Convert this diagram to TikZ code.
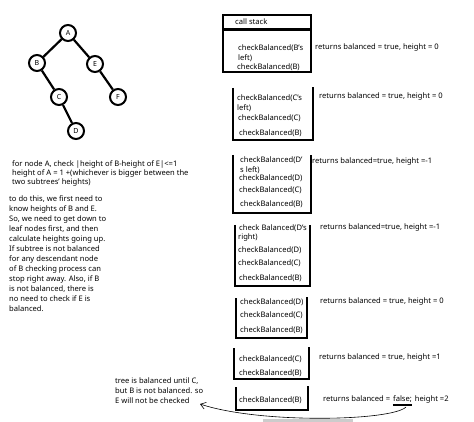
\documentclass[tikz,border=0pt]{standalone}
\usepackage{fontspec}
\setmainfont{Noto Sans}
\usepackage{tikz}
\usetikzlibrary{arrows.meta}

\tikzset{
	vertex/.style={draw, circle, line width=2pt, minimum size=16pt, inner sep=0pt, font=\fontsize{7}{8}\selectfont},
	edge/.style={line width=2.2pt},
	frame/.style={line width=2pt},
	txt/.style={anchor=west, inner sep=0pt, font=\fontsize{7.6}{8}\selectfont},
	para/.style={anchor=north west, inner sep=0pt, align=left}
}

\begin{document}
\begin{tikzpicture}[x=1pt, y=-1pt]
			\useasboundingbox (0,0) rectangle (474,422);

			% tree
			\node [vertex] (A) at (68,33) {A};
			\node [vertex] (B) at (37,63) {B};
			\node [vertex] (E) at (95,64) {E};
			\node [vertex] (C) at (59,97) {C};
			\node [vertex] (F) at (118,97) {F};
			\node [vertex] (D) at (76,131) {D};

			\draw [edge] (A) -- (B);
			\draw [edge] (A) -- (E);
			\draw [edge] (B) -- (C);
			\draw [edge] (C) -- (D);
			\draw [edge] (E) -- (F);

			% notes on the left
			\node [para, font=\fontsize{7.6}{9.3}\selectfont] (note1) at (12,160) {for node A, check |height of B-height of E|<=1\\height of A = 1 +(whichever is bigger between the\\two subtrees' heights)};
			\node [para, font=\fontsize{7.6}{10}\selectfont] (note2) at (9,195) {to do this, we first need to\\know heights of B and E.\\So, we need to get down to\\leaf nodes first, and then\\calculate heights going up.};
			\node [para, font=\fontsize{7.6}{10}\selectfont] (note3) at (9,245) {If subtree is not balanced\\for any descendant node\\of B checking process can\\stop right away. Also, if B\\is not balanced, there is\\no need to check if E is\\balanced.};
			\node [para, font=\fontsize{7.6}{9.7}\selectfont] (note4) at (115,378) {tree is balanced until C,\\but B is not balanced. so\\E will not be checked};

			% call stack frames
			\draw [frame] (223,15) rectangle (311,29);
			\draw [frame] (223,30) rectangle (311,72);
			\draw [frame] (233,88) -- (233,140) -- (313,140) -- (313,87);
			\draw [frame] (233,155) -- (233,213) -- (311,213) -- (311,155);
			\draw [frame] (235,225) -- (235,286) -- (310,286) -- (310,225);
			\draw [frame] (236,298) -- (236,338) -- (307,338) -- (307,297);
			\draw [frame] (234,348) -- (234,379) -- (309,379) -- (309,347);
			\draw [frame] (236,387) -- (236,410) -- (308,410) -- (308,386);

			\node [txt] (cs) at (235,22) {call stack};

			\node [txt] (s1a) at (238,48) {checkBalanced(B's};
			\node [txt] (s1b) at (238,58) {left)};
			\node [txt] (s1c) at (237,67) {checkBalanced(B)};
			\node [txt] (r1) at (315,48) {returns balanced = true, height = 0};

			\node [txt] (s2a) at (237,98) {checkBalanced(C's};
			\node [txt] (s2b) at (237,108) {left)};
			\node [txt] (s2c) at (238,118) {checkBalanced(C)};
			\node [txt] (s2d) at (239,133) {checkBalanced(B)};
			\node [txt] (r2) at (319,97) {returns balanced = true, height = 0};

			\node [txt] (s3a) at (240,160) {checkBalanced(D'};
			\node [txt] (s3b) at (240,170) {s left)};
			\node [txt] (s3c) at (239,178) {checkBalanced(D)};
			\node [txt] (s3d) at (239,190) {checkBalanced(C)};
			\node [txt] (s3e) at (240,204) {checkBalanced(B)};
			\node [txt] (r3) at (312,162) {returns balanced=true, height =-1};

			\node [txt] (s4a) at (239,228) {check Balanced(D's};
			\node [txt] (s4b) at (238,238) {right)};
			\node [txt] (s4c) at (238,250) {checkBalanced(D)};
			\node [txt] (s4d) at (238,263) {checkBalanced(C)};
			\node [txt] (s4e) at (239,278) {checkBalanced(B)};
			\node [txt] (r4) at (320,228) {returns balanced=true, height =-1};

			\node [txt] (s5a) at (240,302) {checkBalanced(D)};
			\node [txt] (s5b) at (240,315) {checkBalanced(C)};
			\node [txt] (s5c) at (240,330) {checkBalanced(B)};
			\node [txt] (r5) at (320,302) {returns balanced = true, height = 0};

			\node [txt] (s6a) at (239,359) {checkBalanced(C)};
			\node [txt] (s6b) at (239,373) {checkBalanced(B)};
			\node [txt] (r6) at (319,358) {returns balanced = true, height =1};

			\node [txt] (s7a) at (239,400) {checkBalanced(B)};
			\node [txt] (r7) at (323,399) {returns balanced =};
			\node [txt, anchor=base west] (r7f) at ([xshift=2.6pt]r7.base east) {false;};
			\node [txt, anchor=base west] (r7h) at ([xshift=2.6pt]r7f.base east) {height =2};

			% underline and arrow
			\coordinate (u1) at ([yshift=-3.5pt]r7f.base west);
			\coordinate (u2) at ([yshift=-3.5pt]r7f.base east);
			\coordinate (start) at (406,407);
			\coordinate (tip) at (200,404);
			\draw [line width=2.2pt] (u1) -- (u2);
			\draw [-{Straight Barb[length=5pt,width=7pt]}, line width=0.6pt] (start) .. controls (392,421) and (260,424) .. (tip);

			\fill [gray!40] (263,419) rectangle (353,422);

		\end{tikzpicture}
\end{document}
